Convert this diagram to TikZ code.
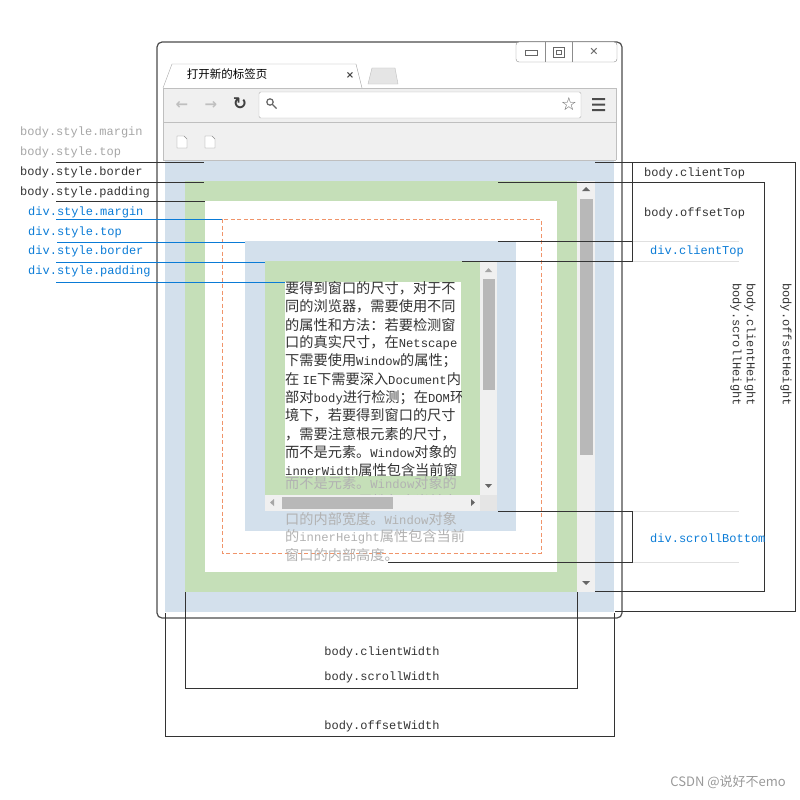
\documentclass[tikz,border=0pt]{standalone}
\usepackage{fontspec}
\setmainfont{Liberation Mono}
\newfontfamily\cjk{Noto Sans CJK SC}
\newfontfamily\dv{DejaVu Sans}
\newcommand{\m}[1]{{\fontspec{Liberation Mono}\fontsize{12.2}{14}\selectfont #1}}
\definecolor{bblue}{HTML}{D3E0EC}
\definecolor{bgreen}{HTML}{C5DFB8}
\definecolor{lblue}{HTML}{0A7BD6}
\definecolor{sbar}{HTML}{F0F0F0}
\definecolor{thumb}{HTML}{B8B8B8}
\definecolor{dashc}{HTML}{F0946A}
\definecolor{ln}{HTML}{333333}
\tikzset{
 lab/.style={anchor=west,inner sep=0pt,font=\fontsize{12}{13}\selectfont,text=ln},
 glab/.style={lab,text=black!35},
 blab/.style={lab,text=lblue},
 rlab/.style={lab,rotate=-90,anchor=west},
 txt/.style={anchor=west,inner sep=0pt,font=\cjk\fontsize{14.2}{16}\selectfont,text=ln},
 gtxt/.style={txt,text=black!30},
 dk/.style={draw=ln,line width=0.8pt},
 bl/.style={draw=lblue,line width=0.8pt},
 sep/.style={draw=black!12,line width=0.8pt}
}
\begin{document}
\begin{tikzpicture}[x=1pt,y=-1pt]
\useasboundingbox (0,0) rectangle (800,800);
% window
\draw[draw=black!70,line width=1.2pt,fill=white,rounded corners=5] (157,42) rectangle (622,618);
\draw[draw=black!45,rounded corners=3,fill=white] (516,42) rectangle (617,62);
\draw[black!45] (545,42)--(545,62) (572,42)--(572,62);
\draw[black!60] (525,50) rectangle (537,55);
\draw[black!60] (553,47) rectangle (564,57) (556,50) rectangle (561,54);
\node[inner sep=0,font=\dv\fontsize{11}{11}\selectfont,text=black!60] (xbtn) at (594,52) {✕};
% tab
\draw[black!35,fill=white] (163,88) -- (172,64) -- (356,64) -- (362,88);
\draw[black!25,fill=black!10] (368,84) -- (372,68) -- (395,68) -- (398,84) -- cycle;
\node[inner sep=0,font=\cjk\fontsize{11.5}{12}\selectfont] (tabt) at (227,74) {打开新的标签页};
\node[inner sep=0,font=\dv\bfseries\fontsize{10}{10}\selectfont,text=black!75] (tabx) at (350,75) {×};
% toolbar
\fill[black!6] (163,88) rectangle (616,122);
\fill[sbar] (163,122) rectangle (616,160);
\draw[black!25] (163,88) -- (616,88) (163,122)--(616,122) (163,160)--(616,160);
\draw[black!25] (163,88) -- (163,160) (616,88)--(616,160);
\draw[black!30,fill=white,rounded corners=1.5] (259,92) rectangle (581,118);
\node[inner sep=0,font=\dv\bfseries\fontsize{15}{15}\selectfont,text=black!25] (back) at (182,105) {←};
\node[inner sep=0,font=\dv\bfseries\fontsize{15}{15}\selectfont,text=black!25] (fwd) at (211,105) {→};
\node[inner sep=0,font=\dv\bfseries\fontsize{17}{17}\selectfont,text=black!75] (reload) at (240,104) {↻};
\draw[black!60,line width=1.2pt] (270,102) circle (3.2) (272.5,104.5)--(276.5,108.5);
\node[inner sep=0,font=\dv\fontsize{18}{18}\selectfont,text=black!60] (star) at (569,104) {☆};
\fill[black!70] (592,98) rectangle (605,100) (592,103.5) rectangle (605,105.5) (592,109) rectangle (605,111);
\draw[black!45,fill=white] (177,136) -- (184,136) -- (187,139) -- (187,148) -- (177,148) -- cycle;
\draw[black!45,fill=white] (205,136) -- (212,136) -- (215,139) -- (215,148) -- (205,148) -- cycle;
% body boxes
\fill[bblue] (165,161) rectangle (614,612);
\fill[bgreen] (185,181) rectangle (577,592);
\fill[sbar] (577,181) rectangle (595,592);
\fill[thumb] (580,199) rectangle (593,455);
\fill[black!60] (582,191)--(590,191)--(586,187)--cycle (582,581)--(590,581)--(586,585)--cycle;
\fill[white] (205,201) rectangle (557,572);
\draw[dashc,line width=0.8pt,dash pattern=on 4pt off 2.5pt] (222,219) rectangle (541,553);
% div
\fill[bblue] (245,241) rectangle (516,531);
\fill[bgreen] (265,261) rectangle (480,495);
\fill[white] (285,282) rectangle (461,476);
\foreach \t [count=\i] in {而不是元素。\m{Window}对象的,\m{innerWidth}属性包含当前窗,口的内部宽度。\m{Window}对象,的\m{innerHeight}属性包含当前,窗口的内部高度。}
  \node[gtxt] (g\i) at (285,{465+18*\i}) {\t};
\fill[sbar] (480,261) rectangle (497,495);
\fill[sbar] (265,495) rectangle (480,511);
\fill[black!10] (480,495) rectangle (497,511);
\fill[thumb] (483,279) rectangle (495,390);
\fill[thumb] (282,497) rectangle (393,509);
\fill[black!35] (485,272)--(492,272)--(488.5,268)--cycle;
\fill[black!60] (485,484)--(492,484)--(488.5,488)--cycle;
\fill[black!35] (274,499)--(274,506)--(270,502.5)--cycle;
\fill[black!60] (471,499)--(471,506)--(475,502.5)--cycle;
\begin{scope}
\clip (285,280) rectangle (461,476);
\foreach \t [count=\i] in {要得到窗口的尺寸，对于不,同的浏览器，需要使用不同,的属性和方法：若要检测窗,口的真实尺寸，在\m{Netscape},下需要使用\m{Window}的属性；,在 \m{IE}下需要深入\m{Document}内,部对\m{body}进行检测；在\m{DOM}环,境下，若要得到窗口的尺寸,，需要注意根元素的尺寸，,而不是元素。\m{Window}对象的,\m{innerWidth}属性包含当前窗}
  \node[txt] (t\i) at (285,{270+18.2*\i}) {\t};
\end{scope}
% left labels
\node[glab] (l1) at (20,132) {body.style.margin};
\node[glab] (l2) at (20,152) {body.style.top};
\node[lab] (l3) at (20,172) {body.style.border};
\node[lab] (l4) at (20,192) {body.style.padding};
\node[blab] (l5) at (28,212) {div.style.margin};
\node[blab] (l6) at (28,232) {div.style.top};
\node[blab] (l7) at (28,251) {div.style.border};
\node[blab] (l8) at (28,271) {div.style.padding};
\draw[dk] (56,162)--(204,162) (56,182)--(204,182) (56,201)--(205,201);
\draw[bl] (56,219)--(222,219) (57,242)--(245,242) (56,262)--(265,262) (56,282)--(285,282);
% right: separators
\draw[sep] (632,182)--(739,182) (632,241)--(739,241) (632,261)--(739,261) (632,511)--(739,511) (632,562)--(739,562);
\draw[dk] (595,162)--(632,162)--(632,261)--(462,261) (498,182)--(632,182) (498,241)--(632,241);
\draw[dk] (498,511)--(632,511)--(632,562)--(388,562);
\draw[dk] (632,162)--(795,162)--(795,611)--(615,611);
\draw[dk] (632,182)--(764,182)--(764,591)--(595,591);
\node[lab] (r1) at (644,173) {body.clientTop};
\node[lab] (r2) at (644,213) {body.offsetTop};
\node[blab] (r3) at (650,251) {div.clientTop};
\node[blab] (r4) at (650,538) {div.scrollBottom};
\node[rlab] (v1) at (786,283) {body.offsetHeight};
\node[rlab] (v2) at (750,283) {body.clientHeight};
\node[rlab] (v3) at (736,283) {body.scrollHeight};
% bottom
\draw[dk] (185,592)--(185,688)--(577,688)--(577,592);
\draw[dk] (165,613)--(165,736)--(614,736)--(614,613);
\node[lab,anchor=center] (b1) at (382,652) {body.clientWidth};
\node[lab,anchor=center] (b2) at (382,677) {body.scrollWidth};
\node[lab,anchor=center] (b3) at (382,726) {body.offsetWidth};
\node[inner sep=0,anchor=east,font=\cjk\fontsize{13}{14}\selectfont,text=black!40] (csdn) at (786,782) {CSDN @说好不emo};
\end{tikzpicture}
\end{document}
